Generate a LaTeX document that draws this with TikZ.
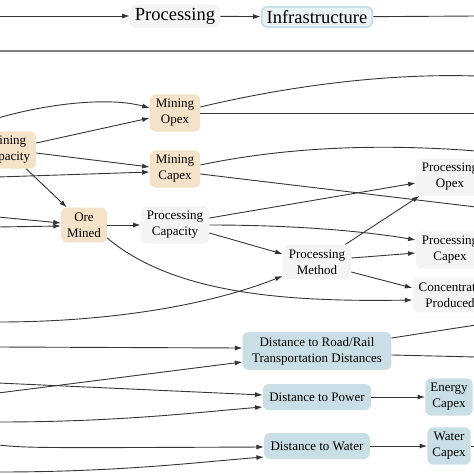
\documentclass[tikz,border=0pt]{standalone}
\usepackage{fontspec}
\setmainfont{Liberation Serif}
\usetikzlibrary{arrows.meta}

\definecolor{minetan}{HTML}{F5E3C9}
\definecolor{procgray}{HTML}{F4F4F4}
\definecolor{infrablue}{HTML}{C9DEE5}
\definecolor{edgegray}{HTML}{353535}

\begin{document}
\begin{tikzpicture}[
    x=1pt, y=-1pt,
    >={Latex[length=7.5pt,width=5pt]},
    box/.style={rounded corners=6pt, align=center, inner xsep=6pt, inner ysep=5pt,
        font=\fontsize{13}{16}\selectfont},
    mine/.style={box, fill=minetan},
    proc/.style={box, fill=procgray},
    infra/.style={box, fill=infrablue, inner xsep=6.5pt},
    stage/.style={rounded corners=6pt, inner xsep=5pt, inner ysep=3.5pt,
        font=\fontsize{18.5}{22}\selectfont},
    link/.style={->, edgegray, line width=0.9pt},
    wire/.style={edgegray, line width=0.9pt},
]
\useasboundingbox (0,0) rectangle (474,474);
\clip (0,0) rectangle (474,474);

% stage banner
\node[stage, fill=procgray] (procstage) at (175,16) {Processing};
\node[stage, fill=infrablue!35, draw=infrablue, line width=2pt] (infrastage) at (317,17) {Infrastructure};
\coordinate (inL) at (-2,16);
\coordinate (outR) at (476,16);
\draw[link] (inL) -- (procstage);
\draw[link] (procstage) -- (infrastage);
\draw[wire] (infrastage) -- (outR);
\coordinate (sepL) at (-2,51);
\coordinate (sepR) at (476,51);
\draw[gray, line width=1.2pt] (sepL) -- (sepR);

% mining
\node[mine] (mincap) at (7,150) {Mining\\Capacity};
\node[mine] (minopex) at (175,113) {Mining\\Opex};
\node[mine] (mincapex) at (175,169) {Mining\\Capex};
\node[mine] (oremined) at (84,225) {Ore\\Mined};

% processing
\node[proc] (proccap) at (175,225) {Processing\\Capacity};
\node[proc] (procmeth) at (317,262) {Processing\\Method};
\node[proc] (procopex) at (450,177) {Processing\\Opex};
\node[proc] (proccapex) at (450,250) {Processing\\Capex};
\node[proc] (concprod) at (450,295) {Concentrate\\Produced};

% infrastructure
\node[infra, inner xsep=9.5pt] (roadrail) at (317,351) {Distance to Road/Rail\\Transportation Distances};
\node[infra, minimum height=26pt] (distpower) at (317,397) {Distance to Power};
\node[infra, minimum height=26pt] (distwater) at (317,446) {Distance to Water};
\node[infra, inner xsep=5pt] (energycapex) at (449,397) {Energy\\Capex};
\node[infra, inner xsep=5pt] (watercapex) at (449,446) {Water\\Capex};

% loose ends at the left border
\coordinate (opexL) at (-2,118);
\coordinate (capexL) at (-2,177);
\coordinate (oreL1) at (-2,217);
\coordinate (oreL2) at (-2,227);
\coordinate (methL) at (-2,322);
\coordinate (roadL1) at (-2,347);
\coordinate (powerL1) at (-2,383);
\coordinate (roadL2) at (-2,393);
\coordinate (powerL2) at (-2,422);
\coordinate (waterL1) at (-2,445);
\coordinate (waterL2) at (-2,472);

% loose ends at the right border
\coordinate (opexR1) at (476,76);
\coordinate (opexR2) at (476,113);
\coordinate (capexR1) at (476,151);
\coordinate (capexR2) at (476,207);
\coordinate (roadR1) at (476,325);
\coordinate (roadR2) at (476,357);
\coordinate (waterR) at (476,446);

% into mining
\draw[link] (opexL) .. controls (50,103) and (110,97) .. ([yshift=5pt]minopex.west);
\draw[link] ([yshift=7pt]mincap.east) -- ([yshift=-5pt]minopex.west);
\draw[link] ([yshift=-3pt]mincap.east) -- ([yshift=2pt]mincapex.west);
\draw[link] (capexL) -- ([yshift=-3pt]mincapex.west);
\draw[link] ([xshift=-10pt]mincap.south east) -- ([xshift=6pt]oremined.north west);
\draw[link] (oreL1) -- ([yshift=2pt]oremined.west);
\draw[link] (oreL2) -- ([yshift=-1pt]oremined.west);

% mining to the right
\draw[wire] ([yshift=6pt]minopex.east) .. controls (280,88) and (380,73) .. (opexR1);
\draw[wire] (minopex.east) -- (opexR2);
\draw[wire] ([yshift=4pt]mincapex.east) .. controls (300,144) and (400,145) .. (capexR1);
\draw[wire] ([yshift=-5pt]mincapex.east) -- (capexR2);

% processing
\draw[link] (oremined) -- (proccap);
\draw[link] ([yshift=-13pt]oremined.east) .. controls (175,295) and (290,302) .. ([yshift=-5pt]concprod.west);
\draw[link] (methL) .. controls (110,322) and (210,305) .. ([yshift=-14pt]procmeth.west);
\draw[link] ([yshift=-8pt]proccap.east) -- ([yshift=8pt]procmeth.west);
\draw[link] ([yshift=7pt]proccap.east) -- ([yshift=-6pt]procopex.west);
\draw[link] (proccap.east) .. controls (300,225) and (370,232) .. ([yshift=10pt]proccapex.west);
\draw[link] ([xshift=-6pt]procmeth.north east) -- ([xshift=4pt]procopex.south west);
\draw[link] ([yshift=4pt]procmeth.east) -- ([yshift=-3pt]proccapex.west);
\draw[link] ([yshift=-10pt]procmeth.east) -- ([yshift=7pt]concprod.west);

% infrastructure
\draw[link] (roadL1) -- ([yshift=3pt]roadrail.west);
\draw[link] (roadL2) -- ([yshift=-11pt]roadrail.west);
\draw[link] (powerL1) -- ([yshift=2pt]distpower.west);
\draw[link] (powerL2) .. controls (120,422) and (200,412) .. ([yshift=-10pt]distpower.west);
\draw[link] (waterL1) .. controls (30,448) .. ([yshift=-1pt]distwater.west);
\draw[link] (waterL2) .. controls (120,472) and (200,462) .. ([yshift=-11pt]distwater.west);
\draw[wire] ([yshift=13pt]roadrail.east) -- (roadR1);
\draw[wire] ([yshift=-4pt]roadrail.east) -- (roadR2);
\draw[link] (distpower) -- (energycapex);
\draw[link] (distwater) -- (watercapex);
\draw[wire] (watercapex) -- (waterR);
\end{tikzpicture}
\end{document}
